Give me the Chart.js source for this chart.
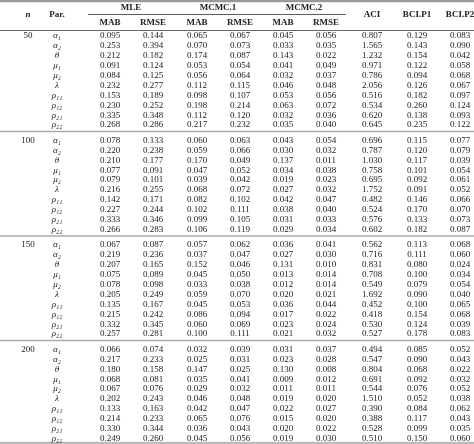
<!DOCTYPE html>
<html>
<head>
<meta charset="utf-8">
<script src="https://cdn.jsdelivr.net/npm/chart.js@4"></script>
<style>
  html, body { margin: 0; padding: 0; background: #fff; }
  #wrap { width: 474px; height: 444px; }
</style>
</head>
<body>
<div id="wrap"><canvas id="tbl"></canvas></div>
<script>
// table data
const sampleSizes = ['50', '100', '150', '200'];
const params = ['α₁', 'α₂', 'θ', 'μ₁', 'μ₂', 'λ', 'ρ₁₁', 'ρ₁₂', 'ρ₂₁', 'ρ₂₂'];
const groupHeaders = ['MLE', 'MCMC.1', 'MCMC.2'];
const colHeaders = ['n', 'Par.', 'MAB', 'RMSE', 'MAB', 'RMSE', 'MAB', 'RMSE', 'ACI', 'BCI.P1', 'BCI.P2'];

const mleMab = [0.095,0.253,0.212,0.091,0.084,0.232,0.153,0.230,0.335,0.268,
  0.078,0.220,0.210,0.077,0.079,0.216,0.142,0.227,0.333,0.266,
  0.067,0.219,0.207,0.075,0.078,0.205,0.135,0.215,0.332,0.257,
  0.066,0.217,0.180,0.068,0.067,0.202,0.133,0.214,0.330,0.249];
const mleRmse = [0.144,0.394,0.182,0.124,0.125,0.277,0.189,0.252,0.348,0.286,
  0.133,0.238,0.177,0.091,0.101,0.255,0.171,0.244,0.346,0.283,
  0.087,0.236,0.165,0.089,0.098,0.249,0.167,0.242,0.345,0.281,
  0.074,0.233,0.158,0.081,0.076,0.243,0.163,0.233,0.344,0.260];
const mc1Mab = [0.065,0.070,0.174,0.053,0.056,0.112,0.098,0.198,0.112,0.217,
  0.060,0.059,0.170,0.047,0.039,0.068,0.082,0.102,0.099,0.106,
  0.057,0.037,0.152,0.045,0.033,0.059,0.045,0.086,0.060,0.100,
  0.032,0.025,0.147,0.035,0.029,0.046,0.042,0.065,0.036,0.045];
const mc1Rmse = [0.067,0.073,0.087,0.054,0.064,0.115,0.107,0.214,0.120,0.232,
  0.063,0.066,0.049,0.052,0.042,0.072,0.102,0.111,0.105,0.119,
  0.062,0.047,0.046,0.050,0.038,0.070,0.053,0.094,0.069,0.111,
  0.039,0.031,0.025,0.041,0.032,0.048,0.047,0.076,0.043,0.056];
const mc2Mab = [0.045,0.033,0.143,0.041,0.032,0.046,0.053,0.063,0.032,0.035,
  0.043,0.030,0.137,0.034,0.019,0.027,0.042,0.038,0.031,0.029,
  0.036,0.027,0.131,0.013,0.012,0.020,0.036,0.017,0.023,0.021,
  0.031,0.023,0.130,0.009,0.011,0.019,0.022,0.015,0.020,0.019];
const mc2Rmse = [0.056,0.035,0.022,0.049,0.037,0.048,0.056,0.072,0.036,0.040,
  0.054,0.032,0.011,0.038,0.023,0.032,0.047,0.040,0.033,0.034,
  0.041,0.030,0.010,0.014,0.014,0.021,0.044,0.022,0.024,0.032,
  0.037,0.028,0.008,0.012,0.011,0.020,0.027,0.020,0.022,0.030];
const aci = [0.807,1.565,1.232,0.971,0.786,2.056,0.516,0.534,0.620,0.645,
  0.696,0.787,1.030,0.758,0.695,1.752,0.482,0.524,0.576,0.602,
  0.562,0.716,0.831,0.708,0.549,1.692,0.452,0.418,0.530,0.527,
  0.494,0.547,0.804,0.691,0.544,1.510,0.390,0.388,0.528,0.510];
const bci1 = [0.129,0.143,0.154,0.122,0.094,0.126,0.182,0.260,0.138,0.235,
  0.115,0.120,0.117,0.101,0.092,0.091,0.146,0.170,0.133,0.182,
  0.113,0.111,0.080,0.100,0.079,0.090,0.100,0.154,0.124,0.178,
  0.085,0.090,0.068,0.092,0.076,0.052,0.084,0.117,0.099,0.150];
const bci2 = [0.083,0.090,0.042,0.058,0.068,0.067,0.097,0.124,0.093,0.122,
  0.077,0.079,0.039,0.054,0.061,0.052,0.066,0.070,0.073,0.087,
  0.068,0.060,0.024,0.034,0.054,0.040,0.065,0.068,0.039,0.083,
  0.052,0.043,0.022,0.032,0.052,0.038,0.062,0.043,0.035,0.060];

const valueCols = [mleMab, mleRmse, mc1Mab, mc1Rmse, mc2Mab, mc2Rmse, aci, bci1, bci2];

// layout (in canvas units, mapped through the scales)
const colX = [28, 57, 110, 153, 197, 240, 283, 326, 372, 417, 460];
const rowY = (b, r) => 36 + b * 104.5 + r * 9.9;

const serif = '"Liberation Serif", "DejaVu Serif", serif';

const tablePlugin = {
  id: 'tablePlugin',
  afterDraw(chart) {
    const ctx = chart.ctx;
    const xs = chart.scales.x, ys = chart.scales.y;
    const X = v => xs.getPixelForValue(v), Y = v => ys.getPixelForValue(v);
    ctx.save();
    ctx.textAlign = 'center';
    ctx.textBaseline = 'middle';
    ctx.fillStyle = '#222';

    // rules
    const hline = (y, x0, x1, w, c) => {
      ctx.strokeStyle = c; ctx.lineWidth = w;
      ctx.beginPath(); ctx.moveTo(X(x0), Y(y)); ctx.lineTo(X(x1), Y(y)); ctx.stroke();
    };
    hline(1, 0, 474, 2.5, '#999');
    hline(14.5, 88, 346, 0.8, '#333');
    hline(30.5, 0, 474, 0.8, '#444');
    [131.5, 236, 340.5].forEach(y => hline(y, 0, 474, 1.5, '#aaa'));
    hline(443, 0, 474, 2.5, '#bbb');

    // headers
    ctx.font = 'bold 9px ' + serif;
    ctx.fillText(groupHeaders[0], X(131), Y(8));
    ctx.fillText(groupHeaders[1], X(218), Y(8));
    ctx.fillText(groupHeaders[2], X(304), Y(8));
    colHeaders.forEach((h, i) => {
      if (i < 2 || i > 7) {
        ctx.font = (i === 0 ? 'bold italic 9px ' : 'bold 9px ') + serif;
        ctx.fillText(h, X(colX[i]), Y(15));
      } else {
        ctx.fillText(h, X(colX[i]), Y(22.5));
      }
    });

    // body
    sampleSizes.forEach((n, b) => {
      ctx.font = '9px ' + serif;
      ctx.fillText(n, X(colX[0]), Y(rowY(b, 0)));
      params.forEach((p, r) => {
        const y = Y(rowY(b, r));
        ctx.font = 'italic 9px ' + serif;
        ctx.fillText(p, X(colX[1]), y);
        ctx.font = '9px ' + serif;
        valueCols.forEach((col, c) => {
          ctx.fillText(col[b * 10 + r].toFixed(3), X(colX[c + 2]), y);
        });
      });
    });
    ctx.restore();
  }
};

new Chart(document.getElementById('tbl'), {
  type: 'scatter',
  data: { datasets: [{ data: [], pointRadius: 0 }] },
  options: {
    responsive: true,
    maintainAspectRatio: false,
    animation: false,
    layout: { padding: 0 },
    plugins: { legend: { display: false }, tooltip: { enabled: false } },
    scales: {
      x: { type: 'linear', min: 0, max: 474, display: false },
      y: { type: 'linear', min: 0, max: 444, reverse: true, display: false }
    }
  },
  plugins: [tablePlugin]
});
</script>
</body>
</html>
